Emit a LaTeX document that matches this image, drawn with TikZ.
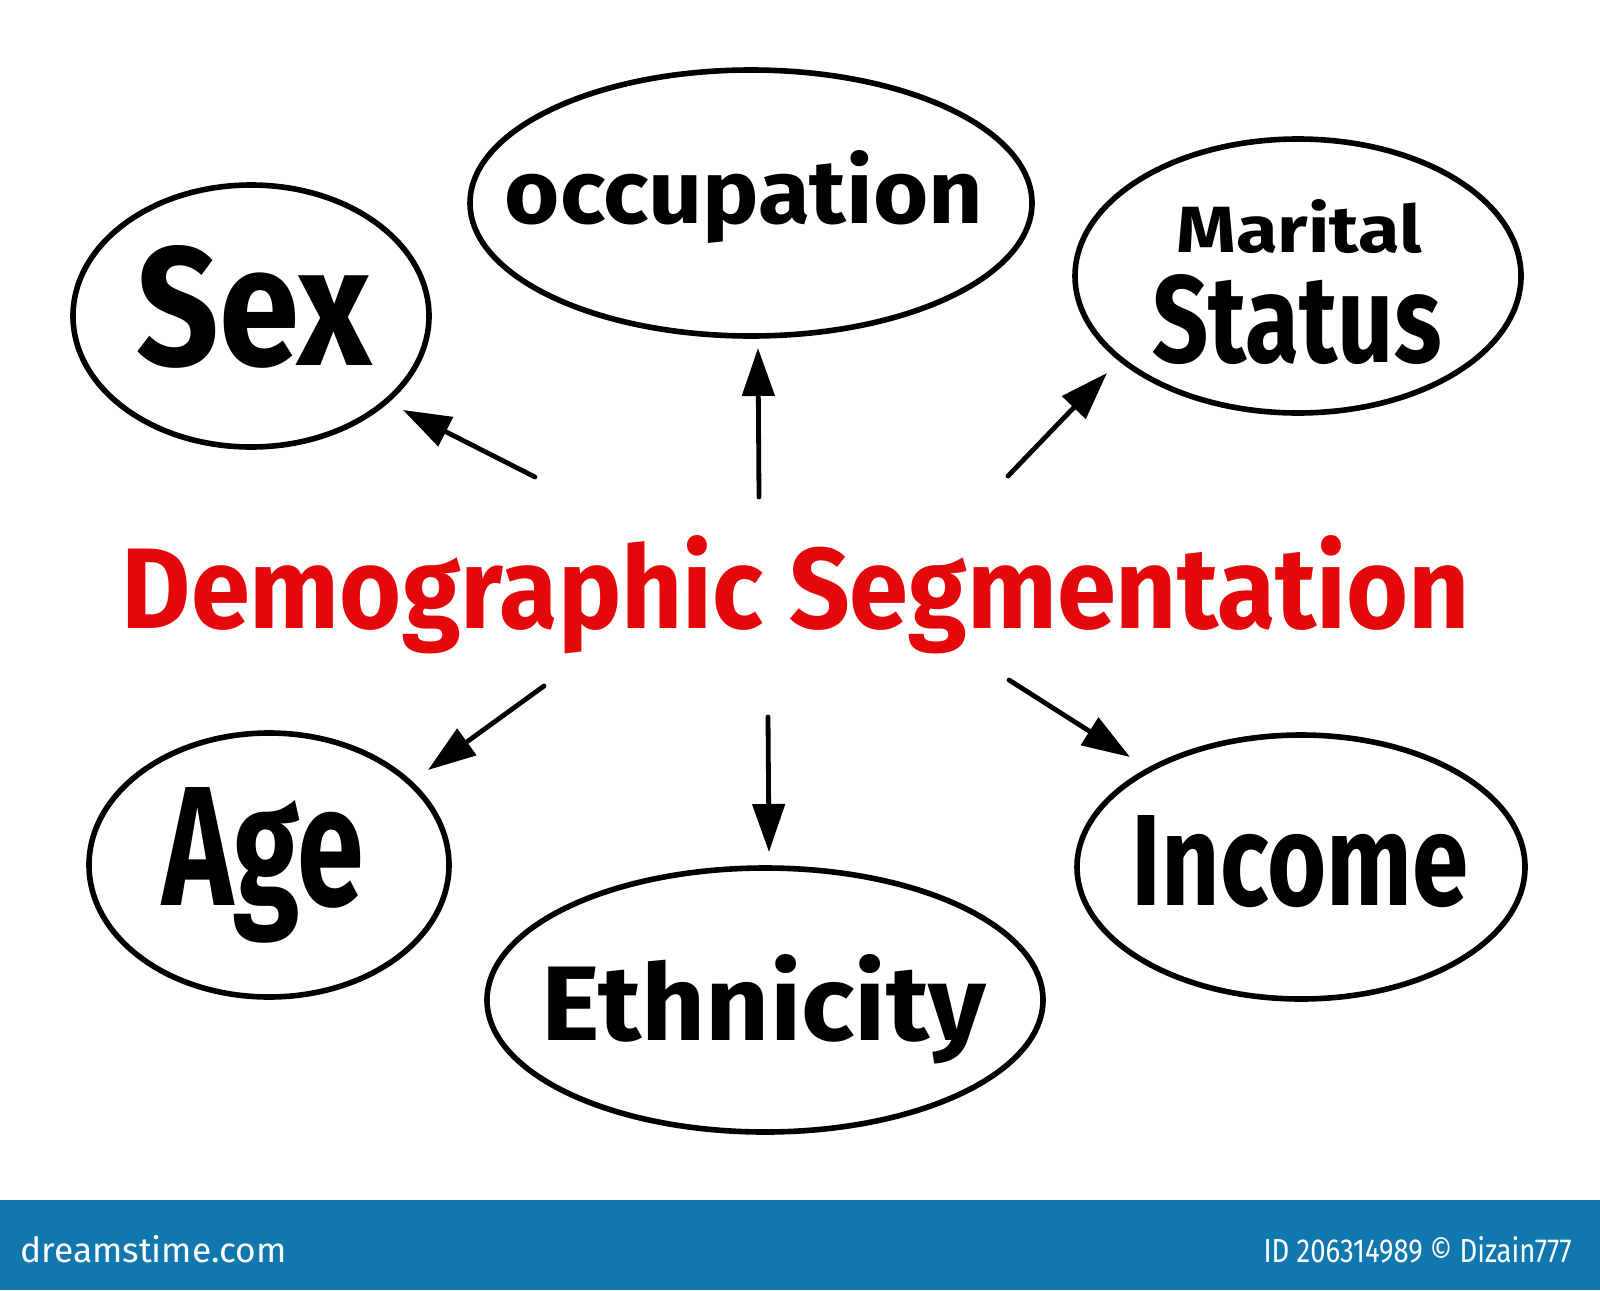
\documentclass[tikz,border=0pt]{standalone}
\usepackage{fontspec}
\setmainfont{Fira Sans}
\usetikzlibrary{shapes.geometric,arrows.meta}
\definecolor{titlered}{RGB}{228,8,10}
\definecolor{footblue}{RGB}{17,119,175}
\tikzset{
  oval/.style={ellipse, draw=black, line width=2.8pt, inner sep=0pt},
  lbl/.style={anchor=base, inner sep=0pt, text=black, font=\bfseries},
  arr/.style={line width=2.4pt, -{Triangle[length=24pt,width=16pt]}, line cap=round},
}
\begin{document}
\begin{tikzpicture}[x=0.5pt,y=-0.5pt]
\path[fill=white, use as bounding box] (0,0) rectangle (1600,1290);
\fill[footblue] (0,1200) rectangle (1600,1290);

% ellipses
\node[oval, minimum width=178pt, minimum height=131pt] (sexov) at (251,316) {};
\node[oval, minimum width=281pt, minimum height=133pt] (occov) at (751,203) {};
\node[oval, minimum width=223pt, minimum height=137pt] (marov) at (1298,276) {};
\node[oval, minimum width=180pt, minimum height=132pt] (ageov) at (269,865) {};
\node[oval, minimum width=278pt, minimum height=132pt] (ethov) at (765,1000) {};
\node[oval, minimum width=224pt, minimum height=132pt] (incov) at (1301,867) {};

% labels
\node[lbl] (sex) at (254,365) {\resizebox{117.5pt}{60pt}{Sex}};
\node[lbl] (occ) at (744,223) {\resizebox{239pt}{36.5pt}{occupation}};
\node[lbl] (mar) at (1299,252) {\resizebox{122.5pt}{26.5pt}{Marital}};
\node[lbl] (sta) at (1297,362) {\resizebox{144.5pt}{44pt}{Status}};
\node[lbl] (age) at (263,905) {\resizebox{100.5pt}{59pt}{Age}};
\node[lbl] (eth) at (764,1040) {\resizebox{222pt}{43pt}{Ethnicity}};
\node[lbl] (inc) at (1300,905) {\resizebox{168pt}{45pt}{Income}};
\node[lbl, text=titlered] (title) at (796,628) {\resizebox{674pt}{46.5pt}{Demographic Segmentation}};

% arrow end points
\coordinate (a1) at (535,477);  \coordinate (b1) at (403,410);
\coordinate (a2) at (759,497);  \coordinate (b2) at (758,348);
\coordinate (a3) at (1008,476); \coordinate (b3) at (1107,373);
\coordinate (a4) at (544,686);  \coordinate (b4) at (428,770);
\coordinate (a5) at (768,717);  \coordinate (b5) at (769,852);
\coordinate (a6) at (1009,680); \coordinate (b6) at (1130,757);
\draw[arr] (a1) -- (b1);
\draw[arr] (a2) -- (b2);
\draw[arr] (a3) -- (b3);
\draw[arr] (a4) -- (b4);
\draw[arr] (a5) -- (b5);
\draw[arr] (a6) -- (b6);

% footer
\node[anchor=base west, inner sep=0pt, text=white] (dt) at (20,1262) {\resizebox{133pt}{13.5pt}{dreamstime.com}};
\node[anchor=base east, inner sep=0pt, text=white] (id) at (1572,1262) {\resizebox{154pt}{13pt}{ID 206314989 © Dizain777}};
\end{tikzpicture}
\end{document}
